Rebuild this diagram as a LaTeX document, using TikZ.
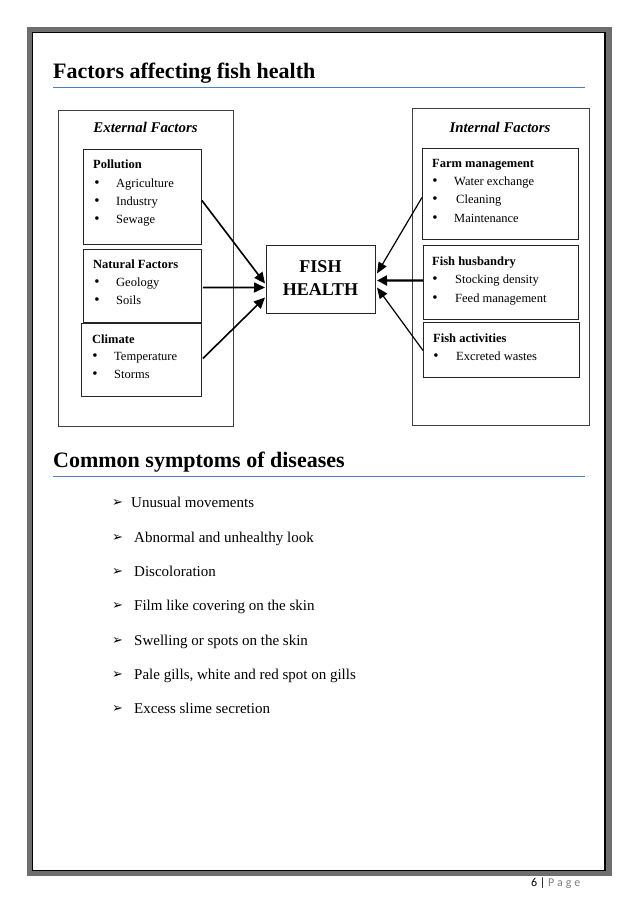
\documentclass[tikz,border=0pt]{standalone}
\usepackage{fontspec}
\setmainfont{Liberation Serif}
\newfontfamily\symfont{DejaVu Sans}
\newfontfamily\footfont{Carlito}
\newfontfamily\footspaced[LetterSpace=25]{Carlito}
\usetikzlibrary{calc,arrows.meta}
\definecolor{rulblue}{HTML}{4A7EC8}
\definecolor{framegray}{HTML}{6E6E6E}
\definecolor{pagegray}{HTML}{7F7F7F}
\begin{document}
\begin{tikzpicture}[x=1pt,y=-1pt,
  box/.style={draw=black!85, line width=0.9pt, anchor=north west, inner sep=0pt},
  outer/.style={draw=black!75, line width=0.8pt, anchor=north west, inner sep=0pt},
  txt/.style={anchor=base west, inner sep=0pt, font=\fontsize{12.5}{14}\selectfont},
  hd/.style={anchor=base west, inner sep=0pt, font=\fontsize{12.5}{14}\selectfont\bfseries},
  grp/.style={anchor=base, inner sep=0pt, font=\fontsize{14.8}{17}\selectfont\bfseries\itshape},
  bul/.style={anchor=base, inner sep=0pt, font=\fontsize{15}{14}\selectfont},
  sec/.style={anchor=base west, inner sep=0pt, font=\fontsize{22}{26}\selectfont\bfseries},
  sym/.style={anchor=base west, inner sep=0pt, font=\fontsize{15}{18}\selectfont},
  symb/.style={anchor=base west, inner sep=0pt, font=\fontsize{13}{15}\selectfont\symfont},
  rul/.style={draw=rulblue, line width=0.8pt},
  arrL/.style={draw=black, line width=1.6pt, -{Triangle[length=11pt,width=10pt]}},
  arrR/.style={draw=black, line width=1.2pt, -{Triangle[length=11pt,width=9pt]}},
  arrM/.style={draw=black, line width=2.2pt, -{Triangle[length=10pt,width=10pt]}}
]
\useasboundingbox (0,0) rectangle (638,903);
% page frame
\fill[framegray] (27,27) rectangle (612,876);
\draw[black, line width=1.8pt, fill=white] (32.5,32.5) rectangle (605,870.5);

% section 1
\node[sec] (t1) at (53,78) {Factors affecting fish health};
\draw[rul] (53,87) -- (585,87);

% external factors
\node[outer, minimum width=175, minimum height=316] (ext) at (58,110) {};
\node[grp] (extt) at (145.5,132) {External Factors};
\node[box, minimum width=118, minimum height=95] (poll) at (83,149) {};
\node[box, minimum width=118, minimum height=73] (nat) at (83,249) {};
\node[box, minimum width=120, minimum height=73] (clim) at (81,323) {};

\node[hd] (pollh) at (93,168) {Pollution};
\node[bul] (b1) at (97,187) {•}; \node[txt] (i1) at (116,187) {Agriculture};
\node[bul] (b2) at (97,205) {•}; \node[txt] (i2) at (116,205) {Industry};
\node[bul] (b3) at (97,223) {•}; \node[txt] (i3) at (116,223) {Sewage};

\node[hd] (nath) at (93,268) {Natural Factors};
\node[bul] (b4) at (97,286) {•}; \node[txt] (i4) at (116,286) {Geology};
\node[bul] (b5) at (97,304) {•}; \node[txt] (i5) at (116,304) {Soils};

\node[hd] (climh) at (92,343) {Climate};
\node[bul] (b6) at (95,360) {•}; \node[txt] (i6) at (114,360) {Temperature};
\node[bul] (b7) at (95,378) {•}; \node[txt] (i7) at (114,378) {Storms};

% fish health
\node[box, line width=1pt, minimum width=109, minimum height=68] (fish) at (266,245) {};
\node[anchor=base, inner sep=0pt, font=\fontsize{18}{21}\selectfont\bfseries] (f1) at (320.5,272) {FISH};
\node[anchor=base, inner sep=0pt, font=\fontsize{18}{21}\selectfont\bfseries] (f2) at (320.5,295) {HEALTH};

% internal factors
\node[outer, minimum width=177, minimum height=317] (int) at (412,108) {};
\node[grp] (intt) at (500,132) {Internal Factors};
\node[box, minimum width=156, minimum height=91] (farm) at (422,148) {};
\node[box, minimum width=155, minimum height=74] (hus) at (423,245) {};
\node[box, minimum width=156, minimum height=55] (act) at (423,322) {};

\node[hd] (farmh) at (432,167) {Farm management};
\node[bul] (b8) at (435,185) {•}; \node[txt] (i8) at (454,185) {Water exchange};
\node[bul] (b9) at (435,203) {•}; \node[txt] (i9) at (456,203) {Cleaning};
\node[bul] (b10) at (435,222) {•}; \node[txt] (i10) at (454,222) {Maintenance};

\node[hd] (hush) at (432,265) {Fish husbandry};
\node[bul] (b11) at (435,283) {•}; \node[txt] (i11) at (455,283) {Stocking density};
\node[bul] (b12) at (435,302) {•}; \node[txt] (i12) at (455,302) {Feed management};

\node[hd] (acth) at (433,342) {Fish activities};
\node[bul] (b13) at (436,360) {•}; \node[txt] (i13) at (456,360) {Excreted wastes};

% arrows
\draw[arrL] ($(poll.east)+(0,3.5)$) -- ($(fish.west)+(-1,4)$);
\draw[arrL] ($(nat.east)+(1,1.5)$) -- ($(fish.west)+(-1,8)$);
\draw[arrL] ($(clim.east)+(1,-1.5)$) -- ($(fish.west)+(-1,18)$);
\draw[arrR] ($(farm.west)+(0,3.5)$) -- ($(fish.east)+(1,-6)$);
\draw[arrM] ($(hus.west)+(0,-2)$) -- ($(fish.east)+(1,1)$);
\draw[arrR] ($(act.west)+(0,0.5)$) -- ($(fish.east)+(1,8)$);

% section 2
\node[sec] (t2) at (53,467) {Common symptoms of diseases};
\draw[rul] (53,476) -- (585,476);

\node[symb] (s1) at (112,506) {➢}; \node[sym] (y1) at (131,507) {Unusual movements};
\node[symb] (s2) at (112,541) {➢}; \node[sym] (y2) at (134,542) {Abnormal and unhealthy look};
\node[symb] (s3) at (112,575) {➢}; \node[sym] (y3) at (134,576) {Discoloration};
\node[symb] (s4) at (112,609) {➢}; \node[sym] (y4) at (134,610) {Film like covering on the skin};
\node[symb] (s5) at (112,644) {➢}; \node[sym] (y5) at (134,645) {Swelling or spots on the skin};
\node[symb] (s6) at (112,678) {➢}; \node[sym] (y6) at (134,679) {Pale gills, white and red spot on gills};
\node[symb] (s7) at (112,712) {➢}; \node[sym] (y7) at (134,713) {Excess slime secretion};

% footer
\node[anchor=base west, inner sep=0pt, font=\fontsize{12}{14}\selectfont\footfont] (pg) at (531,886) {6 {\color{black}|} \textcolor{pagegray}{\footspaced Page}};
\end{tikzpicture}
\end{document}
